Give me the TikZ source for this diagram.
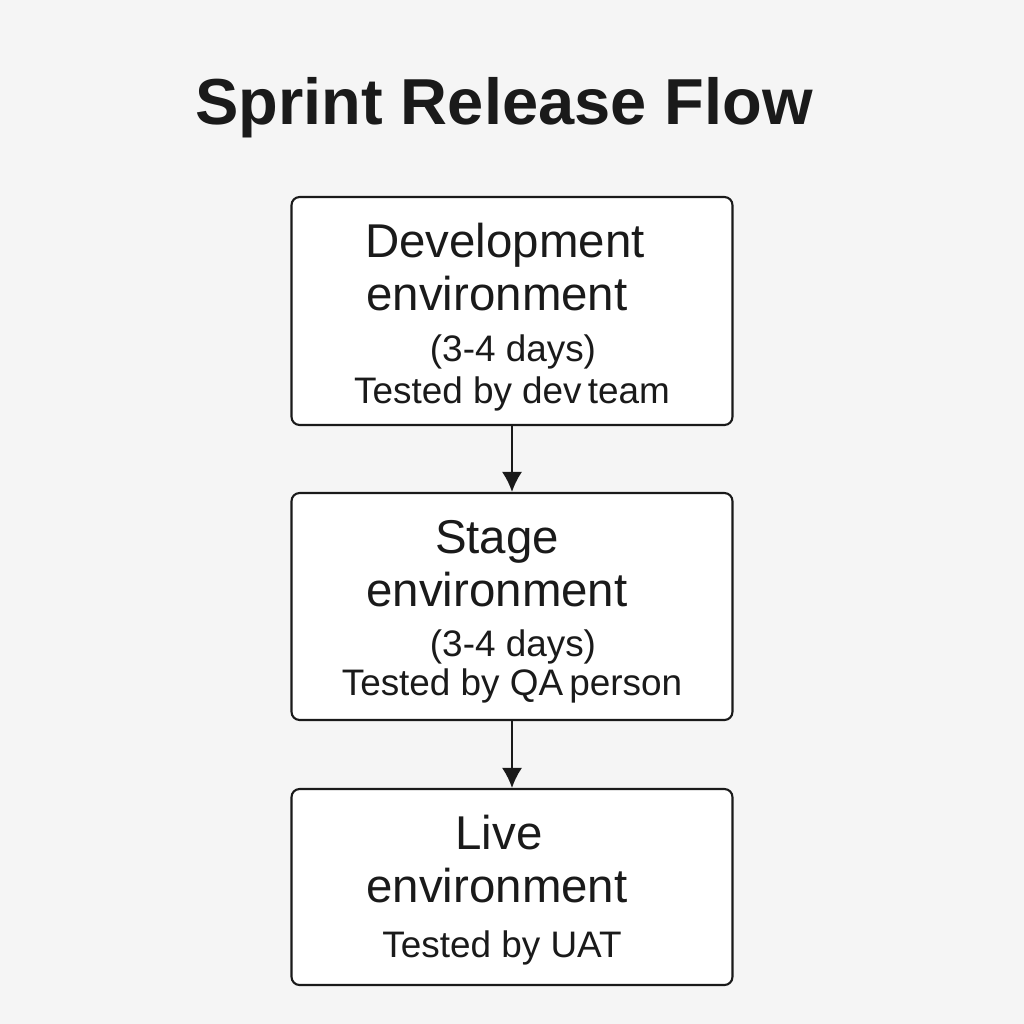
\documentclass[tikz,border=0pt]{standalone}
\usepackage{fontspec}
\setmainfont{Liberation Sans}
\usetikzlibrary{arrows.meta,positioning}
\definecolor{ink}{RGB}{26,26,26}
\definecolor{paper}{RGB}{245,245,245}

\begin{document}
\begin{tikzpicture}[x=0.02cm,y=-0.02cm,
  stagebox/.style={draw=ink, fill=white, line width=1.2pt, rounded corners=1.6mm, minimum width=8.82cm},
  bigline/.style={anchor=base, text=ink, inner sep=0pt, font=\fontsize{27}{32}\selectfont},
  smallline/.style={anchor=base, text=ink, inner sep=0pt, font=\fontsize{21}{25}\selectfont},
  flow/.style={-{Latex[length=4mm,width=4mm]}, line width=1.1pt, draw=ink}]
\fill[paper] (0,0) rectangle (1024,1024);
\node[anchor=base, text=ink, inner sep=0pt, font=\fontsize{37}{44}\selectfont\bfseries] (title) at (504,125) {Sprint Release Flow};
% boxes
\node[stagebox, minimum height=4.56cm] (dev) at (512,311) {};
\node[stagebox, minimum height=4.54cm] (stage) at (512,606.5) {};
\node[stagebox, minimum height=3.92cm] (live) at (512,887) {};
% texts
\node[bigline] (dev1) at (505,257) {Development};
\node[bigline] (dev2) at (497,310) {environment};
\node[smallline] (dev3) at (513,361) {(3-4 days)};
\node[smallline] (dev4) at (512,403) {Tested by dev\,team};
\node[bigline] (stage1) at (497,553) {Stage};
\node[bigline] (stage2) at (497,606) {environment};
\node[smallline] (stage3) at (513,656) {(3-4 days)};
\node[smallline] (stage4) at (512,695) {Tested by QA\,person};
\node[bigline] (live1) at (499,849) {Live};
\node[bigline] (live2) at (497,902) {environment};
\node[smallline] (live3) at (502,957) {Tested by UAT};
% arrows
\draw[flow] (dev) -- (stage);
\draw[flow] (stage) -- (live);
\end{tikzpicture}
\end{document}
